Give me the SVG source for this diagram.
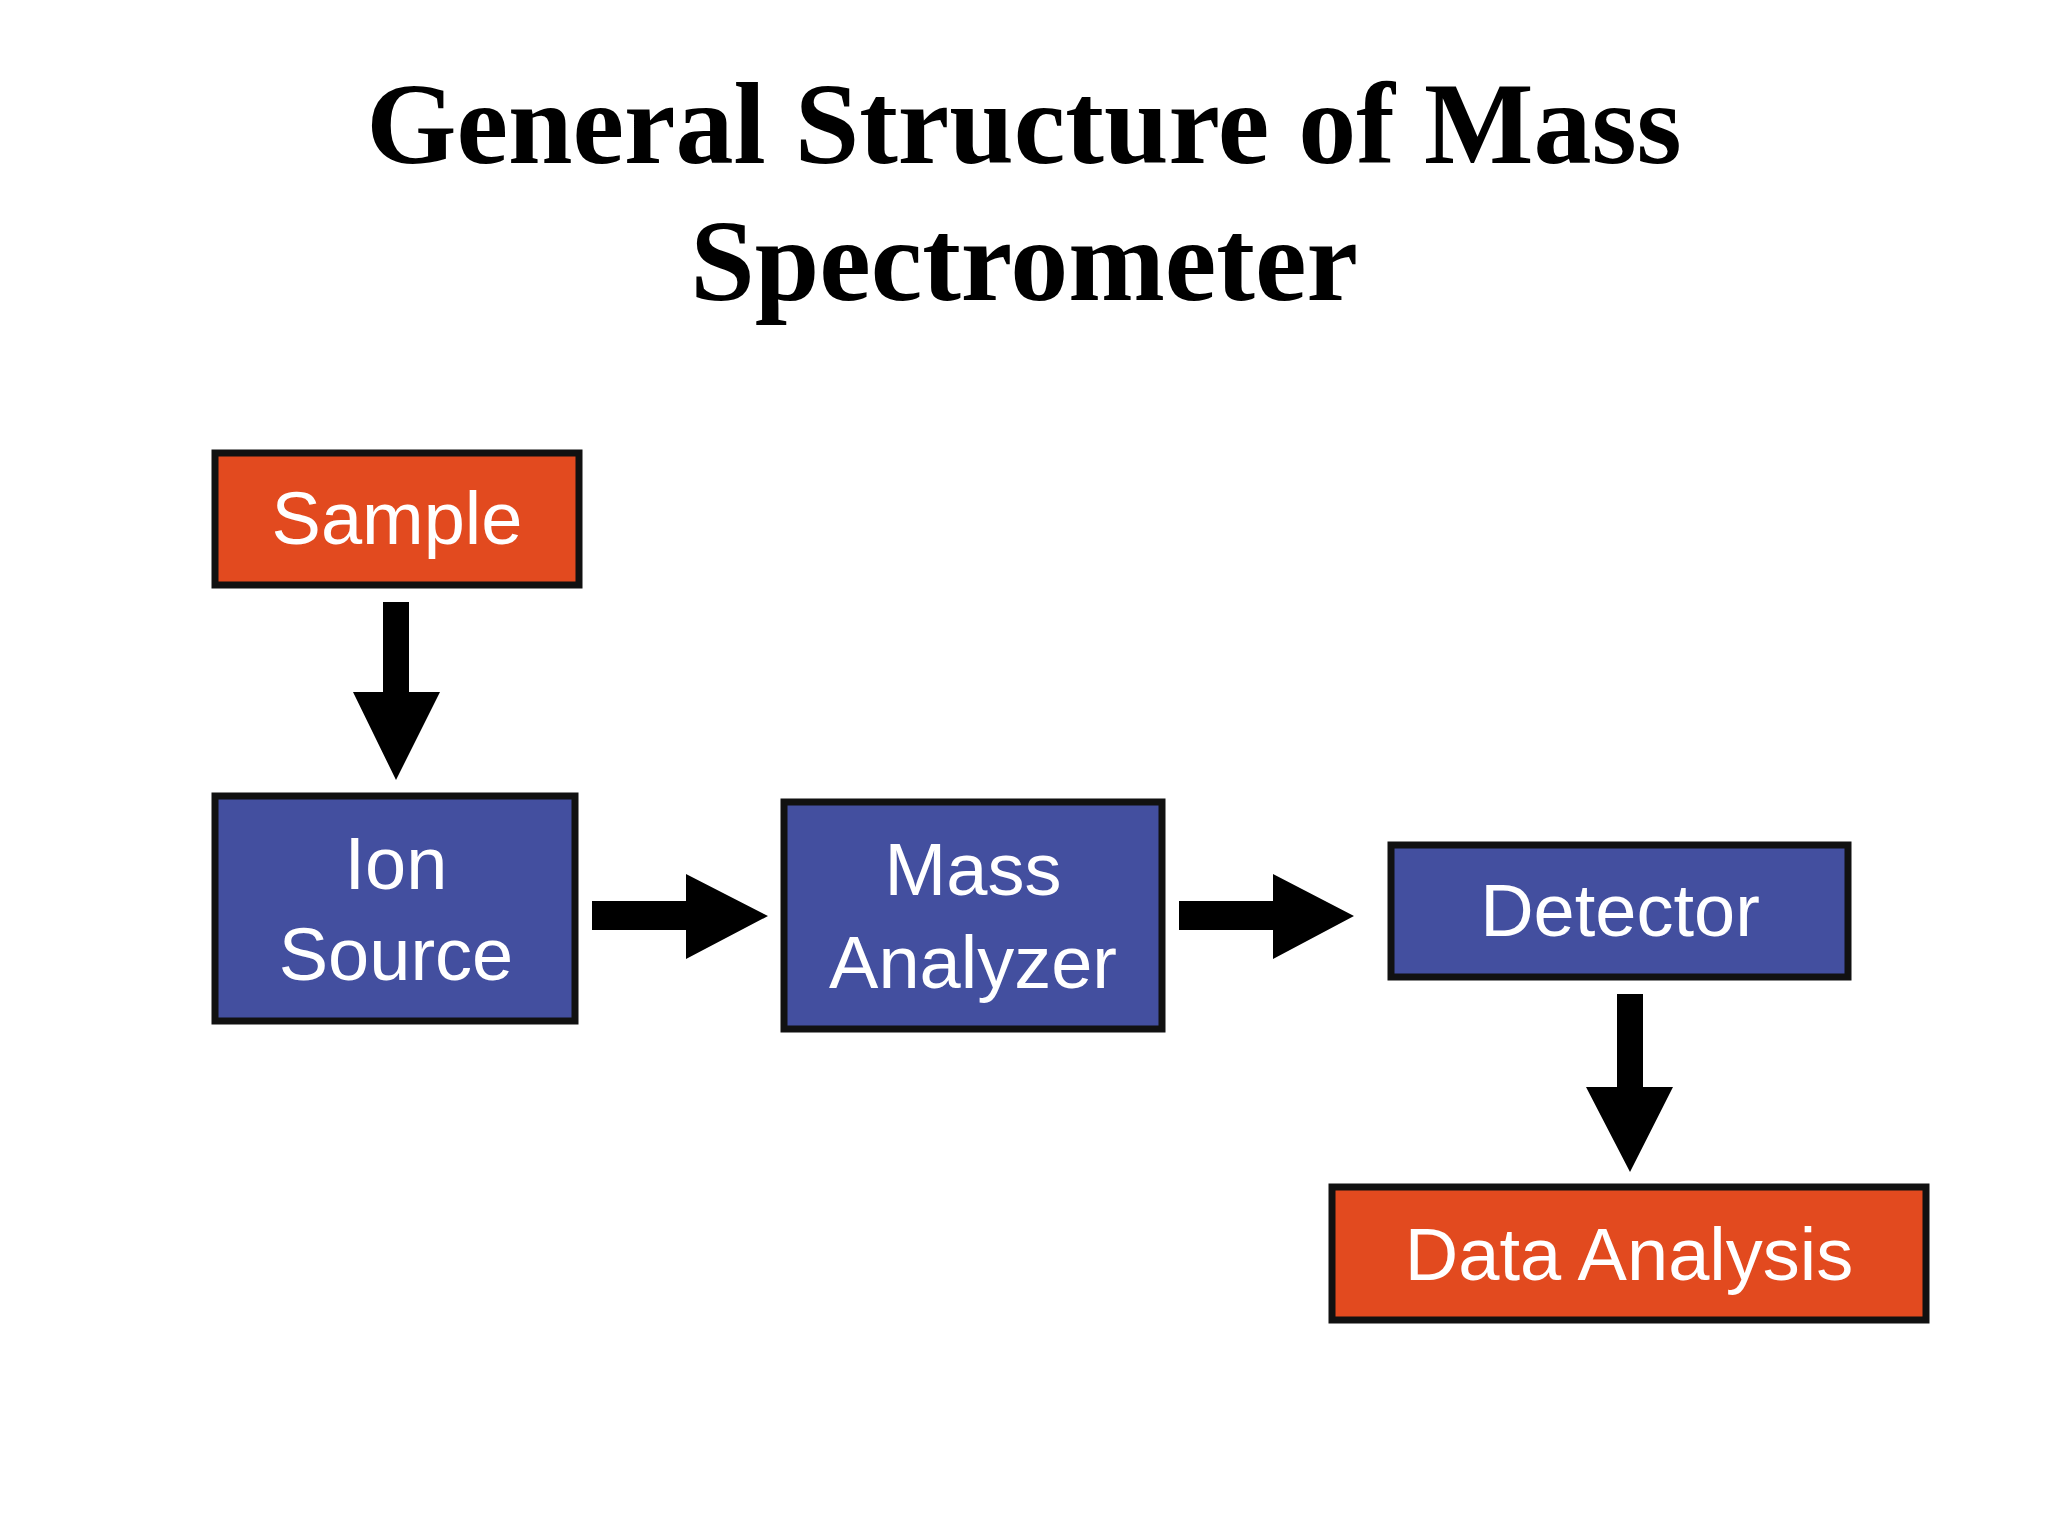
<svg xmlns="http://www.w3.org/2000/svg" width="2048" height="1536" viewBox="0 0 2048 1536">
<style>
.t{font-family:"Liberation Serif",serif;font-weight:bold;font-size:116px;fill:#000;text-anchor:middle}
.o{fill:#e24a1f;stroke:#111;stroke-width:7}
.b{fill:#434f9f;stroke:#111;stroke-width:7}
.l{font-family:"Liberation Sans",Arial,sans-serif;font-size:74px;fill:#fff;text-anchor:middle}
</style>
<rect width="2048" height="1536" fill="#fff"/>
<text class="t" x="1024" y="163">General Structure of Mass</text>
<text class="t" x="1024" y="300">Spectrometer</text>
<g id="sample"><rect class="o" x="215" y="453" width="364" height="132"/><text class="l" x="397" y="544">Sample</text></g>
<g id="ion-source"><rect class="b" x="215" y="796" width="360" height="225"/><text class="l" x="396" y="889">Ion</text><text class="l" x="396" y="980">Source</text></g>
<g id="mass-analyzer"><rect class="b" x="784" y="802" width="378" height="227"/><text class="l" x="973" y="895">Mass</text><text class="l" x="973" y="988">Analyzer</text></g>
<g id="detector"><rect class="b" x="1391" y="845" width="457" height="132"/><text class="l" x="1620" y="936">Detector</text></g>
<g id="data-analysis"><rect class="o" x="1332" y="1187" width="594" height="133"/><text class="l" x="1629" y="1280">Data Analysis</text></g>
<g id="connectors" fill="#000">
<polygon points="383,602 409,602 409,692 440,692 396,780 353,692 383,692"/>
<polygon points="592,901 686,901 686,874 768,916 686,959 686,930 592,930"/>
<polygon points="1179,901 1273,901 1273,874 1354,916 1273,959 1273,930 1179,930"/>
<polygon points="1617,994 1643,994 1643,1087 1673,1087 1630,1172 1586,1087 1617,1087"/>
</g>
</svg>
